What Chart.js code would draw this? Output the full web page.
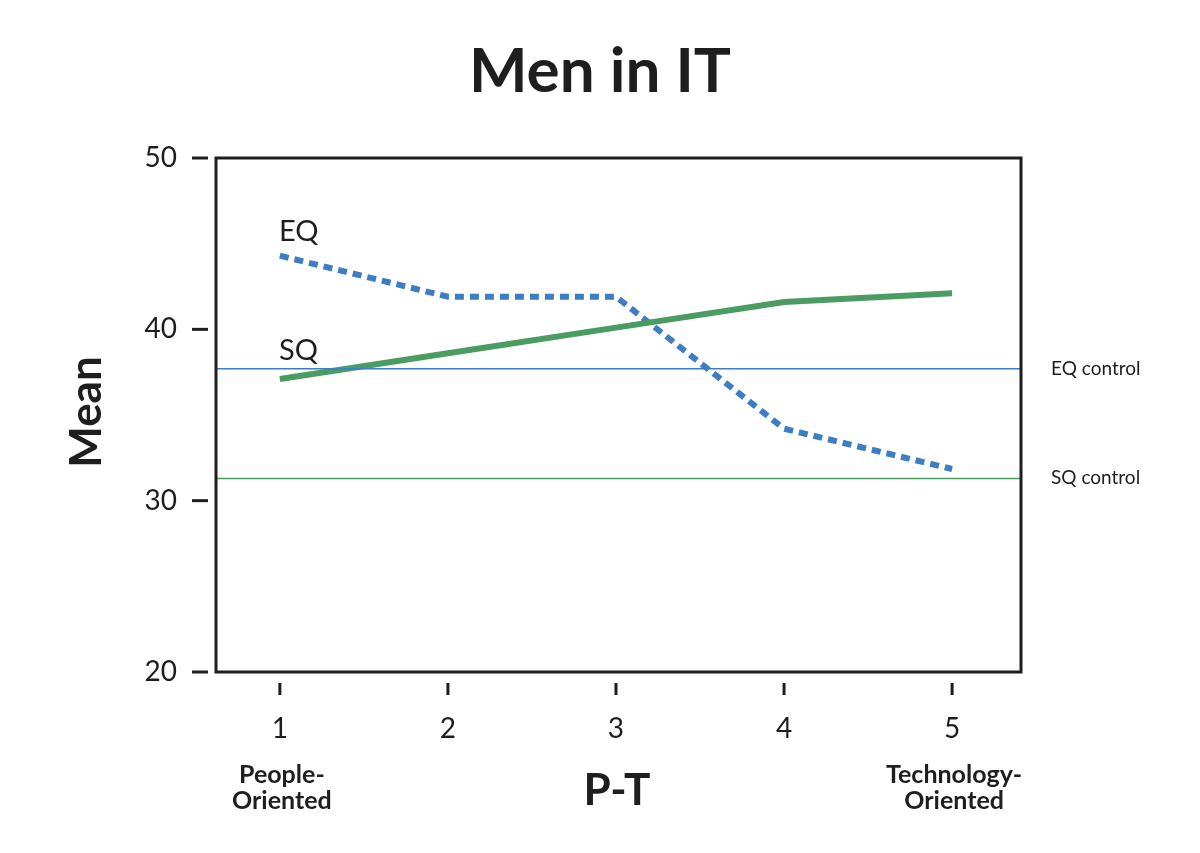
<!DOCTYPE html>
<html><head><meta charset="utf-8">
<script src="https://cdn.jsdelivr.net/npm/chart.js@4"></script>
<style>html,body{margin:0;padding:0;background:#fff;}#wrap{width:1200px;height:853px;}</style>
</head><body><div id="wrap"><canvas id="c" width="1200" height="853"></canvas></div>
<script>
const categories = [1, 2, 3, 4, 5];
const eqValues = [44.3, 41.9, 41.9, 34.2, 31.85];
const sqValues = [37.1, 38.6, 40.1, 41.6, 42.1];
const eqControl = 37.7;
const sqControl = 31.3;
const yTicks = [20, 30, 40, 50];
const xMin = 0.62, xMax = 5.41;
const FONT = "Lato, 'Open Sans', sans-serif";
const INK = '#1e1e1e';
const BLUE = '#3d7dc3';
const GREEN = '#4b9c62';

const overlay = {
  id: 'overlay',
  afterDraw(chart) {
    const {ctx, chartArea: a, scales: {x, y}} = chart;
    ctx.save();
    ctx.strokeStyle = INK; ctx.lineWidth = 3;
    ctx.strokeRect(a.left, a.top, a.right - a.left, a.bottom - a.top);
    yTicks.forEach(v => {
      const py = y.getPixelForValue(v);
      ctx.beginPath(); ctx.moveTo(192, py); ctx.lineTo(208, py); ctx.stroke();
    });
    categories.forEach(v => {
      const px = x.getPixelForValue(v);
      ctx.beginPath(); ctx.moveTo(px, a.bottom + 11); ctx.lineTo(px, a.bottom + 23); ctx.stroke();
    });
    ctx.fillStyle = INK;
    ctx.textAlign = 'center'; ctx.textBaseline = 'alphabetic';
    ctx.font = "bold 62px " + FONT;
    ctx.fillText('Men in IT', 600, 92);
    ctx.font = "bold 44px " + FONT;
    ctx.fillText('P-T', 617, 805);
    ctx.font = "bold 25px " + FONT;
    const x1 = x.getPixelForValue(categories[0]);
    const x5 = x.getPixelForValue(categories[categories.length - 1]);
    ctx.fillText('People-', x1 + 2, 783);
    ctx.fillText('Oriented', x1 + 2, 809);
    ctx.fillText('Technology-', x5 + 2, 783);
    ctx.fillText('Oriented', x5 + 2, 809);
    ctx.save();
    ctx.translate(101, 412); ctx.rotate(-Math.PI / 2);
    ctx.font = "bold 44px " + FONT;
    ctx.fillText('Mean', 0, 0);
    ctx.restore();
    ctx.textAlign = 'left';
    ctx.font = "29px " + FONT;
    ctx.fillText('EQ', 279, 241);
    ctx.fillText('SQ', 279, 360);
    ctx.font = "19px " + FONT;
    ctx.fillText('EQ control', 1051, y.getPixelForValue(eqControl) + 6);
    ctx.fillText('SQ control', 1051, y.getPixelForValue(sqControl) + 6);
    ctx.restore();
  }
};

new Chart(document.getElementById('c'), {
  type: 'line',
  data: {
    datasets: [
      { label: 'EQ control', data: [{x: xMin, y: eqControl}, {x: xMax, y: eqControl}], borderColor: BLUE, borderWidth: 1.5, pointRadius: 0 },
      { label: 'SQ control', data: [{x: xMin, y: sqControl}, {x: xMax, y: sqControl}], borderColor: GREEN, borderWidth: 1.5, pointRadius: 0 },
      { label: 'SQ', data: categories.map((c, i) => ({x: c, y: sqValues[i]})), borderColor: GREEN, borderWidth: 6, pointRadius: 0, borderCapStyle: 'butt' },
      { label: 'EQ', data: categories.map((c, i) => ({x: c, y: eqValues[i]})), borderColor: BLUE, borderWidth: 6, borderDash: [9, 6], pointRadius: 0, borderCapStyle: 'butt' }
    ]
  },
  options: {
    responsive: false, animation: false,
    layout: { padding: { left: 0, top: 158, right: 179, bottom: 0 } },
    plugins: { legend: { display: false }, title: { display: false }, tooltip: { enabled: false } },
    scales: {
      x: {
        type: 'linear', min: xMin, max: xMax,
        afterBuildTicks: s => { s.ticks = categories.map(v => ({value: v})); },
        afterFit: s => { s.height = 181; },
        grid: { display: false }, border: { display: false },
        ticks: { color: INK, font: { family: FONT, size: 28 }, padding: 32, maxRotation: 0 }
      },
      y: {
        min: 20, max: 50,
        afterBuildTicks: s => { s.ticks = yTicks.map(v => ({value: v})); },
        afterFit: s => { s.width = 216; },
        grid: { display: false }, border: { display: false },
        ticks: { color: INK, font: { family: FONT, size: 28 }, padding: 31 }
      }
    }
  },
  plugins: [overlay]
});
</script></body></html>
